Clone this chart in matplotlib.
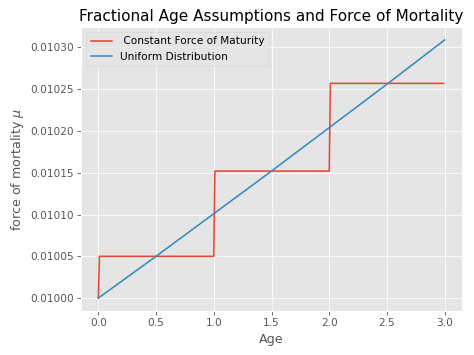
import matplotlib
matplotlib.use("Agg")
import matplotlib.pyplot as plt
from matplotlib.ticker import FormatStrFormatter

plt.style.use('ggplot')

# Constant force of mortality (piecewise constant)
cf_age = [0.0, 0.01, 1.0, 1.01, 2.0, 2.01, 2.99]
cf_mu = [0.010000, 0.010050, 0.010050, 0.010152, 0.010152, 0.010257, 0.010257]

# Uniform distribution of deaths
ud_age = [0.0, 0.5, 1.0, 1.5, 2.0, 2.5, 3.0]
ud_mu = [0.010000, 0.010050, 0.010101, 0.010152, 0.010204, 0.010256, 0.010309]

DPI = 76
W, H = 474, 355
fig, ax = plt.subplots(figsize=(W/DPI, H/DPI), dpi=DPI)
fig.subplots_adjust(left=81/W, right=462/W, top=1-27/H, bottom=1-311/H)
ax.plot(cf_age, cf_mu, label=' Constant Force of Maturity')
ax.plot(ud_age, ud_mu, label='Uniform Distribution')
ax.set_title('Fractional Age Assumptions and Force of Mortality')
ax.set_xlabel('Age')
ax.set_ylabel('force of mortality $\\mu$')
ax.yaxis.set_major_formatter(FormatStrFormatter('%.5f'))
ax.legend(loc='upper left')
fig.savefig('out.png', dpi=DPI)
